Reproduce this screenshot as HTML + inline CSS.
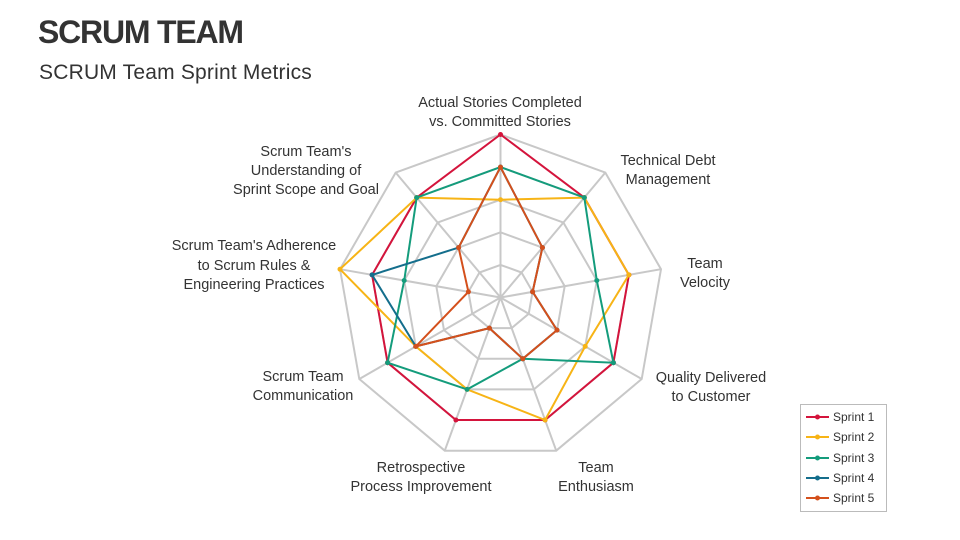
<!DOCTYPE html>
<html><head><meta charset="utf-8"><style>
html,body{margin:0;padding:0;background:#fff;}
body{width:960px;height:540px;overflow:hidden;position:relative;font-family:"Liberation Sans",sans-serif;}
.t{position:absolute;left:38px;top:14px;font-size:32px;font-weight:bold;color:#333;letter-spacing:-1.2px}
.s{position:absolute;left:39px;top:61px;font-size:21px;color:#333;letter-spacing:0.2px}
</style></head><body>
<div class="t">SCRUM TEAM</div>
<div class="s">SCRUM Team Sprint Metrics</div>
<svg id="c" width="960" height="540" style="position:absolute;left:0;top:0" xmlns="http://www.w3.org/2000/svg" font-family="Liberation Sans, sans-serif"></svg>
<script>
var cx=500.5,cy=297.5,u=32.6,N=9,s='';
function pt(k,r){var a=(-90+40*k)*Math.PI/180;return [cx+r*u*Math.cos(a),cy+r*u*Math.sin(a)];}
for(var r=1;r<=5;r++){var p=[];for(var k=0;k<N;k++){p.push(pt(k,r).map(v=>v.toFixed(1)).join(','));}
s+='<polygon points="'+p.join(' ')+'" fill="none" stroke="#c8c8c8" stroke-width="2"/>';}
for(var k=0;k<N;k++){var q=pt(k,5);s+='<line x1="'+cx+'" y1="'+cy+'" x2="'+q[0]+'" y2="'+q[1]+'" stroke="#c8c8c8" stroke-width="2"/>';}
var ser=[
['#d4143c',[5,4,4,4,4,4,4,4,4]],
['#f7b416',[3,4,4,3,4,3,3,5,4]],
['#149c7c',[4,4,3,4,2,3,4,3,4]],
['#146e8c',[4,2,1,2,2,1,3,4,2]],
['#d4501c',[4,2,1,2,2,1,3,1,2]]];
ser.forEach(function(sr){var p=[];var m='';for(var k=0;k<N;k++){var q=pt(k,sr[1][k]);p.push(q[0].toFixed(1)+','+q[1].toFixed(1));
m+='<circle cx="'+q[0].toFixed(1)+'" cy="'+q[1].toFixed(1)+'" r="2.5" fill="'+sr[0]+'"/>';}
s+='<polygon points="'+p.join(' ')+'" fill="none" stroke="'+sr[0]+'" stroke-width="2"/>'+m;});
var L=[[500,[102,121],['Actual Stories Completed','vs. Committed Stories']],
[668,[160,179],['Technical Debt','Management']],
[705,[263,282],['Team','Velocity']],
[711,[377,396],['Quality Delivered','to Customer']],
[596,[467,486],['Team','Enthusiasm']],
[421,[467,486],['Retrospective','Process Improvement']],
[303,[376,395],['Scrum Team','Communication']],
[254,[245,265,284],["Scrum Team's Adherence",'to Scrum Rules &','Engineering Practices']],
[306,[151,170,189],["Scrum Team's",'Understanding of','Sprint Scope and Goal']]];
L.forEach(function(l){l[2].forEach(function(t,i){s+='<text x="'+l[0]+'" y="'+(l[1][i]+5)+'" font-size="14.5" fill="#333" text-anchor="middle">'+t.replace('&','&amp;')+'</text>';});});
s+='<rect x="800.5" y="404.5" width="86" height="107" fill="#fff" stroke="#bbb"/>';
var ys=[417,437,458,478,498];
ser.forEach(function(sr,i){var y=ys[i];s+='<line x1="806" y1="'+y+'" x2="829" y2="'+y+'" stroke="'+sr[0]+'" stroke-width="2"/><circle cx="817.5" cy="'+y+'" r="2.5" fill="'+sr[0]+'"/><text x="833" y="'+(y+4)+'" font-size="12" fill="#333">Sprint '+(i+1)+'</text>';});
document.getElementById('c').innerHTML=s;
</script>
</body></html>
